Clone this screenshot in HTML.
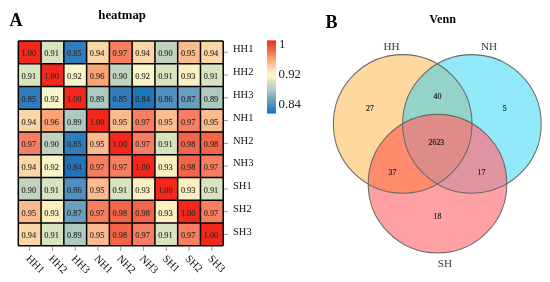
<!DOCTYPE html>
<html><head><meta charset="utf-8"><style>
html,body{margin:0;padding:0;background:#fff;width:550px;height:282px;overflow:hidden}
svg{display:block}
text{font-family:"Liberation Serif",serif}
.n{font-size:8.3px;fill:#2a2a2a;stroke:#2a2a2a;stroke-width:0.12px;text-anchor:middle}
.rl{font-size:10.5px;fill:#111}
.cl{font-size:10.8px;fill:#111}
.lg{font-size:12.8px;fill:#222}
.pl{font-size:18px;font-weight:bold;fill:#000}
.tt{font-size:12.8px;font-weight:bold;fill:#000}
.tt2{font-size:12.2px;font-weight:bold;fill:#000}
.vl{font-size:11.2px;fill:#3a3a3a;text-anchor:middle}
.vn{font-size:7.8px;fill:#222;stroke:#222;stroke-width:0.2px;text-anchor:middle}
</style></head><body>
<svg width="550" height="282" viewBox="0 0 550 282">
<rect x="18.30" y="40.90" width="22.77" height="22.77" fill="#f4281a"/>
<rect x="41.07" y="40.90" width="22.77" height="22.77" fill="#d8e3c0"/>
<rect x="63.84" y="40.90" width="22.77" height="22.77" fill="#307cbc"/>
<rect x="86.61" y="40.90" width="22.77" height="22.77" fill="#fcd6a5"/>
<rect x="109.38" y="40.90" width="22.77" height="22.77" fill="#f77e60"/>
<rect x="132.15" y="40.90" width="22.77" height="22.77" fill="#fcd6a5"/>
<rect x="154.92" y="40.90" width="22.77" height="22.77" fill="#c0d3be"/>
<rect x="177.69" y="40.90" width="22.77" height="22.77" fill="#fcba8f"/>
<rect x="200.46" y="40.90" width="22.77" height="22.77" fill="#fcd6a5"/>
<rect x="18.30" y="63.67" width="22.77" height="22.77" fill="#d8e3c0"/>
<rect x="41.07" y="63.67" width="22.77" height="22.77" fill="#f4281a"/>
<rect x="63.84" y="63.67" width="22.77" height="22.77" fill="#f8f6c8"/>
<rect x="86.61" y="63.67" width="22.77" height="22.77" fill="#faa375"/>
<rect x="109.38" y="63.67" width="22.77" height="22.77" fill="#c0d3be"/>
<rect x="132.15" y="63.67" width="22.77" height="22.77" fill="#f8f6c8"/>
<rect x="154.92" y="63.67" width="22.77" height="22.77" fill="#d8e3c0"/>
<rect x="177.69" y="63.67" width="22.77" height="22.77" fill="#fcf0c0"/>
<rect x="200.46" y="63.67" width="22.77" height="22.77" fill="#d8e3c0"/>
<rect x="18.30" y="86.44" width="22.77" height="22.77" fill="#307cbc"/>
<rect x="41.07" y="86.44" width="22.77" height="22.77" fill="#f8f6c8"/>
<rect x="63.84" y="86.44" width="22.77" height="22.77" fill="#f4281a"/>
<rect x="86.61" y="86.44" width="22.77" height="22.77" fill="#accac0"/>
<rect x="109.38" y="86.44" width="22.77" height="22.77" fill="#307cbc"/>
<rect x="132.15" y="86.44" width="22.77" height="22.77" fill="#2074ba"/>
<rect x="154.92" y="86.44" width="22.77" height="22.77" fill="#5091c2"/>
<rect x="177.69" y="86.44" width="22.77" height="22.77" fill="#6a9ebe"/>
<rect x="200.46" y="86.44" width="22.77" height="22.77" fill="#accac0"/>
<rect x="18.30" y="109.21" width="22.77" height="22.77" fill="#fcd6a5"/>
<rect x="41.07" y="109.21" width="22.77" height="22.77" fill="#faa375"/>
<rect x="63.84" y="109.21" width="22.77" height="22.77" fill="#accac0"/>
<rect x="86.61" y="109.21" width="22.77" height="22.77" fill="#f4281a"/>
<rect x="109.38" y="109.21" width="22.77" height="22.77" fill="#fcba8f"/>
<rect x="132.15" y="109.21" width="22.77" height="22.77" fill="#f77e60"/>
<rect x="154.92" y="109.21" width="22.77" height="22.77" fill="#fcba8f"/>
<rect x="177.69" y="109.21" width="22.77" height="22.77" fill="#f77e60"/>
<rect x="200.46" y="109.21" width="22.77" height="22.77" fill="#fcba8f"/>
<rect x="18.30" y="131.98" width="22.77" height="22.77" fill="#f77e60"/>
<rect x="41.07" y="131.98" width="22.77" height="22.77" fill="#c0d3be"/>
<rect x="63.84" y="131.98" width="22.77" height="22.77" fill="#307cbc"/>
<rect x="86.61" y="131.98" width="22.77" height="22.77" fill="#fcba8f"/>
<rect x="109.38" y="131.98" width="22.77" height="22.77" fill="#f4281a"/>
<rect x="132.15" y="131.98" width="22.77" height="22.77" fill="#f77e60"/>
<rect x="154.92" y="131.98" width="22.77" height="22.77" fill="#d8e3c0"/>
<rect x="177.69" y="131.98" width="22.77" height="22.77" fill="#f36448"/>
<rect x="200.46" y="131.98" width="22.77" height="22.77" fill="#f36448"/>
<rect x="18.30" y="154.75" width="22.77" height="22.77" fill="#fcd6a5"/>
<rect x="41.07" y="154.75" width="22.77" height="22.77" fill="#f8f6c8"/>
<rect x="63.84" y="154.75" width="22.77" height="22.77" fill="#2074ba"/>
<rect x="86.61" y="154.75" width="22.77" height="22.77" fill="#f77e60"/>
<rect x="109.38" y="154.75" width="22.77" height="22.77" fill="#f77e60"/>
<rect x="132.15" y="154.75" width="22.77" height="22.77" fill="#f4281a"/>
<rect x="154.92" y="154.75" width="22.77" height="22.77" fill="#fcf0c0"/>
<rect x="177.69" y="154.75" width="22.77" height="22.77" fill="#f36448"/>
<rect x="200.46" y="154.75" width="22.77" height="22.77" fill="#f77e60"/>
<rect x="18.30" y="177.52" width="22.77" height="22.77" fill="#c0d3be"/>
<rect x="41.07" y="177.52" width="22.77" height="22.77" fill="#d8e3c0"/>
<rect x="63.84" y="177.52" width="22.77" height="22.77" fill="#5091c2"/>
<rect x="86.61" y="177.52" width="22.77" height="22.77" fill="#fcba8f"/>
<rect x="109.38" y="177.52" width="22.77" height="22.77" fill="#d8e3c0"/>
<rect x="132.15" y="177.52" width="22.77" height="22.77" fill="#fcf0c0"/>
<rect x="154.92" y="177.52" width="22.77" height="22.77" fill="#f4281a"/>
<rect x="177.69" y="177.52" width="22.77" height="22.77" fill="#fcf0c0"/>
<rect x="200.46" y="177.52" width="22.77" height="22.77" fill="#d8e3c0"/>
<rect x="18.30" y="200.29" width="22.77" height="22.77" fill="#fcba8f"/>
<rect x="41.07" y="200.29" width="22.77" height="22.77" fill="#fcf0c0"/>
<rect x="63.84" y="200.29" width="22.77" height="22.77" fill="#6a9ebe"/>
<rect x="86.61" y="200.29" width="22.77" height="22.77" fill="#f77e60"/>
<rect x="109.38" y="200.29" width="22.77" height="22.77" fill="#f36448"/>
<rect x="132.15" y="200.29" width="22.77" height="22.77" fill="#f36448"/>
<rect x="154.92" y="200.29" width="22.77" height="22.77" fill="#fcf0c0"/>
<rect x="177.69" y="200.29" width="22.77" height="22.77" fill="#f4281a"/>
<rect x="200.46" y="200.29" width="22.77" height="22.77" fill="#f77e60"/>
<rect x="18.30" y="223.06" width="22.77" height="22.77" fill="#fcd6a5"/>
<rect x="41.07" y="223.06" width="22.77" height="22.77" fill="#d8e3c0"/>
<rect x="63.84" y="223.06" width="22.77" height="22.77" fill="#accac0"/>
<rect x="86.61" y="223.06" width="22.77" height="22.77" fill="#fcba8f"/>
<rect x="109.38" y="223.06" width="22.77" height="22.77" fill="#f36448"/>
<rect x="132.15" y="223.06" width="22.77" height="22.77" fill="#f77e60"/>
<rect x="154.92" y="223.06" width="22.77" height="22.77" fill="#d8e3c0"/>
<rect x="177.69" y="223.06" width="22.77" height="22.77" fill="#f77e60"/>
<rect x="200.46" y="223.06" width="22.77" height="22.77" fill="#f4281a"/>
<path d="M18.30 40.90V245.83M18.30 40.90H223.23M41.07 40.90V245.83M18.30 63.67H223.23M63.84 40.90V245.83M18.30 86.44H223.23M86.61 40.90V245.83M18.30 109.21H223.23M109.38 40.90V245.83M18.30 131.98H223.23M132.15 40.90V245.83M18.30 154.75H223.23M154.92 40.90V245.83M18.30 177.52H223.23M177.69 40.90V245.83M18.30 200.29H223.23M200.46 40.90V245.83M18.30 223.06H223.23M223.23 40.90V245.83M18.30 245.83H223.23" stroke="#000" stroke-width="1.5" fill="none"/>
<text x="28.79" y="56.18" class="n">1.00</text>
<text x="51.55" y="56.18" class="n">0.91</text>
<text x="74.33" y="56.18" class="n">0.85</text>
<text x="97.09" y="56.18" class="n">0.94</text>
<text x="119.86" y="56.18" class="n">0.97</text>
<text x="142.63" y="56.18" class="n">0.94</text>
<text x="165.41" y="56.18" class="n">0.90</text>
<text x="188.17" y="56.18" class="n">0.95</text>
<text x="210.94" y="56.18" class="n">0.94</text>
<text x="28.79" y="78.96" class="n">0.91</text>
<text x="51.55" y="78.96" class="n">1.00</text>
<text x="74.33" y="78.96" class="n">0.92</text>
<text x="97.09" y="78.96" class="n">0.96</text>
<text x="119.86" y="78.96" class="n">0.90</text>
<text x="142.63" y="78.96" class="n">0.92</text>
<text x="165.41" y="78.96" class="n">0.91</text>
<text x="188.17" y="78.96" class="n">0.93</text>
<text x="210.94" y="78.96" class="n">0.91</text>
<text x="28.79" y="101.73" class="n">0.85</text>
<text x="51.55" y="101.73" class="n">0.92</text>
<text x="74.33" y="101.73" class="n">1.00</text>
<text x="97.09" y="101.73" class="n">0.89</text>
<text x="119.86" y="101.73" class="n">0.85</text>
<text x="142.63" y="101.73" class="n">0.84</text>
<text x="165.41" y="101.73" class="n">0.86</text>
<text x="188.17" y="101.73" class="n">0.87</text>
<text x="210.94" y="101.73" class="n">0.89</text>
<text x="28.79" y="124.50" class="n">0.94</text>
<text x="51.55" y="124.50" class="n">0.96</text>
<text x="74.33" y="124.50" class="n">0.89</text>
<text x="97.09" y="124.50" class="n">1.00</text>
<text x="119.86" y="124.50" class="n">0.95</text>
<text x="142.63" y="124.50" class="n">0.97</text>
<text x="165.41" y="124.50" class="n">0.95</text>
<text x="188.17" y="124.50" class="n">0.97</text>
<text x="210.94" y="124.50" class="n">0.95</text>
<text x="28.79" y="147.26" class="n">0.97</text>
<text x="51.55" y="147.26" class="n">0.90</text>
<text x="74.33" y="147.26" class="n">0.85</text>
<text x="97.09" y="147.26" class="n">0.95</text>
<text x="119.86" y="147.26" class="n">1.00</text>
<text x="142.63" y="147.26" class="n">0.97</text>
<text x="165.41" y="147.26" class="n">0.91</text>
<text x="188.17" y="147.26" class="n">0.98</text>
<text x="210.94" y="147.26" class="n">0.98</text>
<text x="28.79" y="170.03" class="n">0.94</text>
<text x="51.55" y="170.03" class="n">0.92</text>
<text x="74.33" y="170.03" class="n">0.84</text>
<text x="97.09" y="170.03" class="n">0.97</text>
<text x="119.86" y="170.03" class="n">0.97</text>
<text x="142.63" y="170.03" class="n">1.00</text>
<text x="165.41" y="170.03" class="n">0.93</text>
<text x="188.17" y="170.03" class="n">0.98</text>
<text x="210.94" y="170.03" class="n">0.97</text>
<text x="28.79" y="192.81" class="n">0.90</text>
<text x="51.55" y="192.81" class="n">0.91</text>
<text x="74.33" y="192.81" class="n">0.86</text>
<text x="97.09" y="192.81" class="n">0.95</text>
<text x="119.86" y="192.81" class="n">0.91</text>
<text x="142.63" y="192.81" class="n">0.93</text>
<text x="165.41" y="192.81" class="n">1.00</text>
<text x="188.17" y="192.81" class="n">0.93</text>
<text x="210.94" y="192.81" class="n">0.91</text>
<text x="28.79" y="215.57" class="n">0.95</text>
<text x="51.55" y="215.57" class="n">0.93</text>
<text x="74.33" y="215.57" class="n">0.87</text>
<text x="97.09" y="215.57" class="n">0.97</text>
<text x="119.86" y="215.57" class="n">0.98</text>
<text x="142.63" y="215.57" class="n">0.98</text>
<text x="165.41" y="215.57" class="n">0.93</text>
<text x="188.17" y="215.57" class="n">1.00</text>
<text x="210.94" y="215.57" class="n">0.97</text>
<text x="28.79" y="238.34" class="n">0.94</text>
<text x="51.55" y="238.34" class="n">0.91</text>
<text x="74.33" y="238.34" class="n">0.89</text>
<text x="97.09" y="238.34" class="n">0.95</text>
<text x="119.86" y="238.34" class="n">0.98</text>
<text x="142.63" y="238.34" class="n">0.97</text>
<text x="165.41" y="238.34" class="n">0.91</text>
<text x="188.17" y="238.34" class="n">0.97</text>
<text x="210.94" y="238.34" class="n">1.00</text>
<text x="233.0" y="52.48" class="rl">HH1</text>
<text x="233.0" y="75.26" class="rl">HH2</text>
<text x="233.0" y="98.03" class="rl">HH3</text>
<text x="233.0" y="120.80" class="rl">NH1</text>
<text x="233.0" y="143.56" class="rl">NH2</text>
<text x="233.0" y="166.33" class="rl">NH3</text>
<text x="233.0" y="189.10" class="rl">SH1</text>
<text x="233.0" y="211.87" class="rl">SH2</text>
<text x="233.0" y="234.64" class="rl">SH3</text>
<text transform="translate(25.39 259.13) rotate(45)" class="cl">HH1</text>
<text transform="translate(48.16 259.13) rotate(45)" class="cl">HH2</text>
<text transform="translate(70.93 259.13) rotate(45)" class="cl">HH3</text>
<text transform="translate(93.70 259.13) rotate(45)" class="cl">NH1</text>
<text transform="translate(116.47 259.13) rotate(45)" class="cl">NH2</text>
<text transform="translate(139.23 259.13) rotate(45)" class="cl">NH3</text>
<text transform="translate(162.00 259.13) rotate(45)" class="cl">SH1</text>
<text transform="translate(184.77 259.13) rotate(45)" class="cl">SH2</text>
<text transform="translate(207.54 259.13) rotate(45)" class="cl">SH3</text>
<path d="M224.03 52.28H227.73M224.03 75.06H227.73M224.03 97.83H227.73M224.03 120.60H227.73M224.03 143.36H227.73M224.03 166.13H227.73M224.03 188.91H227.73M224.03 211.67H227.73M224.03 234.44H227.73M29.69 246.63V250.83M52.45 246.63V250.83M75.23 246.63V250.83M98.00 246.63V250.83M120.77 246.63V250.83M143.53 246.63V250.83M166.31 246.63V250.83M189.07 246.63V250.83M211.84 246.63V250.83" stroke="#888" stroke-width="0.9" fill="none"/>
<defs><linearGradient id="cb" x1="0" y1="1" x2="0" y2="0"><stop offset="0.0000" stop-color="#2074ba"/><stop offset="0.0625" stop-color="#307cbc"/><stop offset="0.1250" stop-color="#5091c2"/><stop offset="0.1875" stop-color="#6a9ebe"/><stop offset="0.3125" stop-color="#accac0"/><stop offset="0.3750" stop-color="#c0d3be"/><stop offset="0.4375" stop-color="#d8e3c0"/><stop offset="0.5000" stop-color="#f8f6c8"/><stop offset="0.5625" stop-color="#fcf0c0"/><stop offset="0.6250" stop-color="#fcd6a5"/><stop offset="0.6875" stop-color="#fcba8f"/><stop offset="0.7500" stop-color="#faa375"/><stop offset="0.8125" stop-color="#f77e60"/><stop offset="0.8750" stop-color="#f36448"/><stop offset="1.0000" stop-color="#f4281a"/></linearGradient></defs>
<rect x="267" y="40.4" width="9" height="73.2" fill="url(#cb)"/>
<text x="279" y="47.7" class="lg">1</text>
<text x="278.6" y="77.6" class="lg">0.92</text>
<text x="278.6" y="107.8" class="lg">0.84</text>
<text x="9.5" y="26" class="pl">A</text>
<text x="98.3" y="18.6" class="tt">heatmap</text>
<text x="325.5" y="27.9" class="pl">B</text>
<text x="429.3" y="23.2" class="tt2">Venn</text>
<defs><clipPath id="cH"><circle cx="402.7" cy="123.9" r="69.3"/></clipPath><clipPath id="cN"><circle cx="471.9" cy="123.9" r="69.3"/></clipPath><clipPath id="cS"><circle cx="437.5" cy="183.7" r="69.3"/></clipPath></defs>
<circle cx="402.7" cy="123.9" r="69.3" fill="#fed89e"/>
<circle cx="471.9" cy="123.9" r="69.3" fill="#92e9fa"/>
<circle cx="437.5" cy="183.7" r="69.3" fill="#ffa0a5"/>
<circle cx="471.9" cy="123.9" r="69.3" fill="#94d3c7" clip-path="url(#cH)"/>
<circle cx="437.5" cy="183.7" r="69.3" fill="#ff8a6c" clip-path="url(#cH)"/>
<circle cx="437.5" cy="183.7" r="69.3" fill="#e094a2" clip-path="url(#cN)"/>
<g clip-path="url(#cN)"><circle cx="437.5" cy="183.7" r="69.3" fill="#df8b88" clip-path="url(#cH)"/></g>
<g stroke="#6a6a6a" stroke-width="1.05" fill="none"><circle cx="402.7" cy="123.9" r="69.3"/><circle cx="471.9" cy="123.9" r="69.3"/><circle cx="437.5" cy="183.7" r="69.3"/></g>
<text x="391.6" y="50" class="vl">HH</text>
<text x="489" y="50" class="vl">NH</text>
<text x="445" y="266.8" class="vl">SH</text>
<text x="370" y="111" class="vn">27</text>
<text x="437.5" y="99" class="vn">40</text>
<text x="504.7" y="111" class="vn">5</text>
<text x="436.4" y="144.8" class="vn">2623</text>
<text x="392.5" y="174.7" class="vn">37</text>
<text x="481.5" y="174.7" class="vn">17</text>
<text x="437.4" y="218.9" class="vn">18</text>
</svg>
</body></html>
